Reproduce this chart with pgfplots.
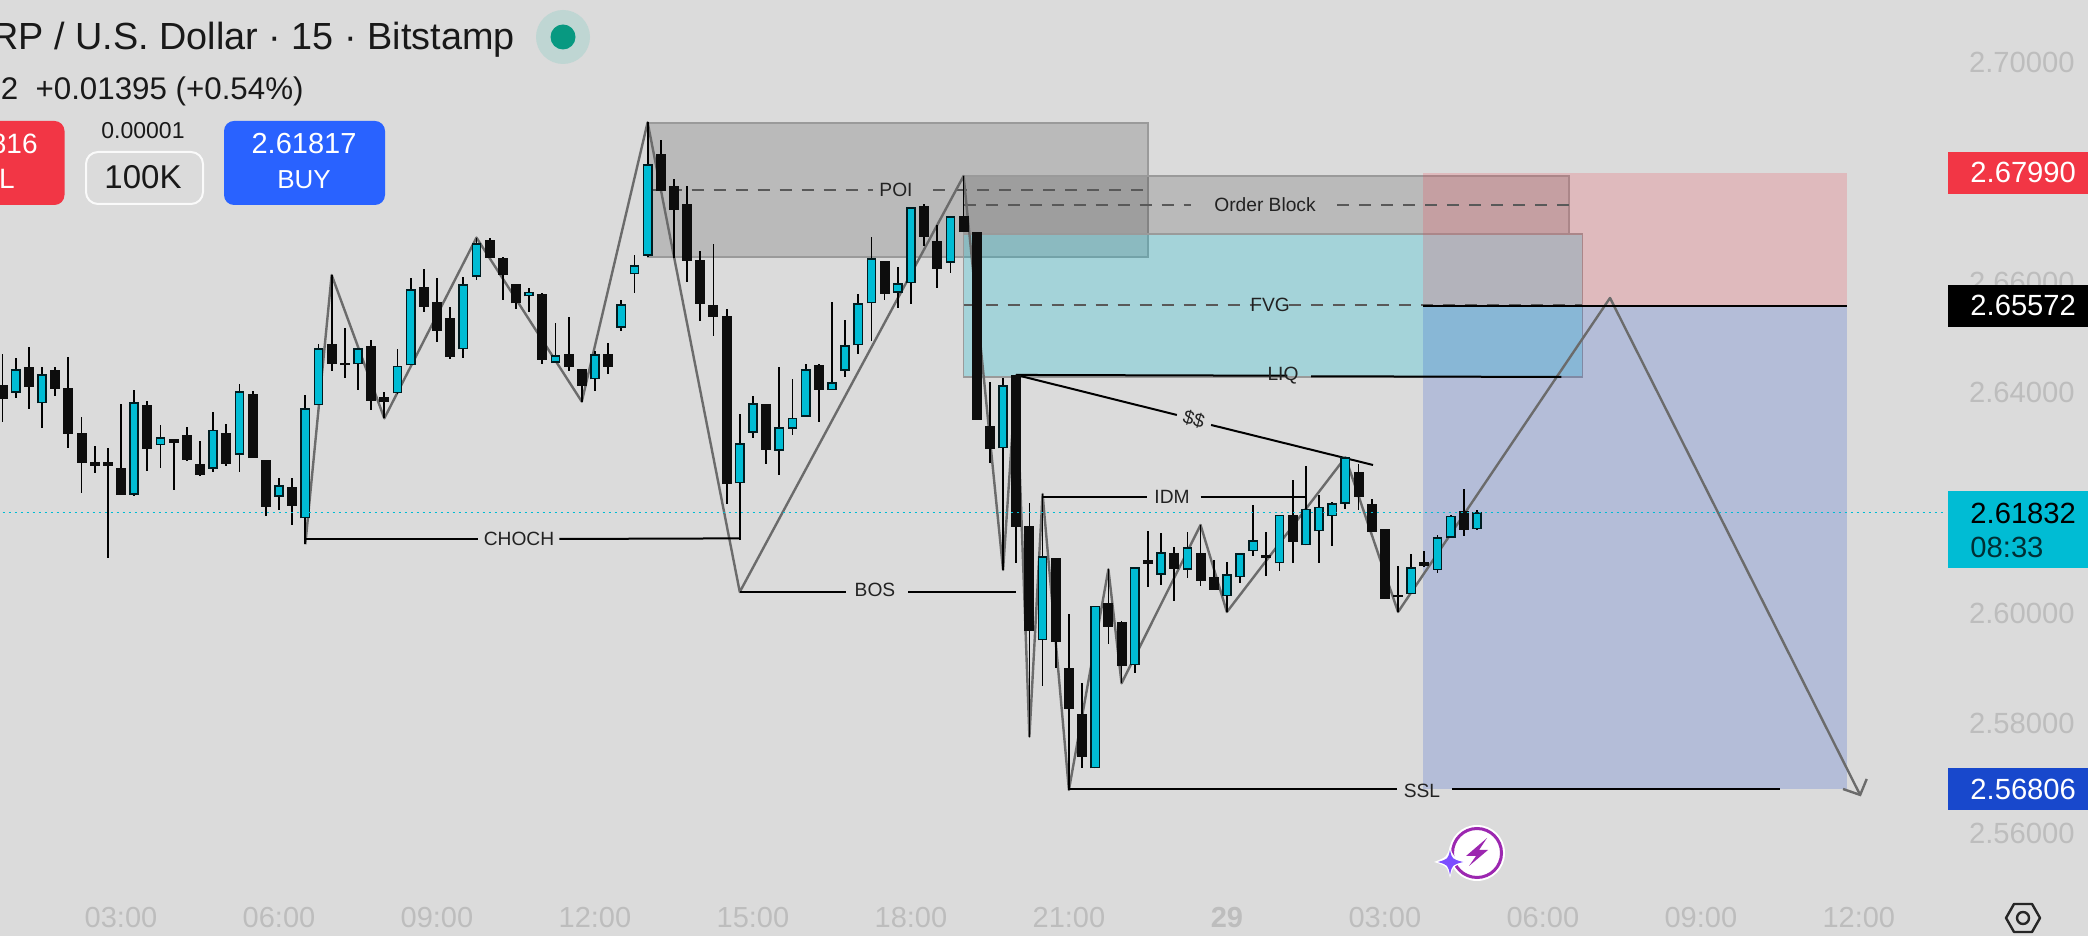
\documentclass[border=0pt]{standalone}
\usepackage{pgfplots}
\usepackage{pgfplotstable}
\usepackage{fontspec}
\pgfplotsset{compat=1.18}
\setmainfont{Liberation Sans}
\definecolor{bgc}{HTML}{DBDBDB}
\definecolor{upc}{HTML}{00BCD4}
\definecolor{tagred}{HTML}{F23645}
\definecolor{tagblue}{HTML}{1848CC}
\definecolor{btnblue}{HTML}{2962FF}
\definecolor{zig}{HTML}{6B6B6B}
\definecolor{ticktxt}{HTML}{BDBDBD}
\definecolor{boxline}{HTML}{9A9A9A}
\definecolor{lbl}{HTML}{222222}
\definecolor{halo}{HTML}{BFD6D3}
\definecolor{dotc}{HTML}{089981}
\definecolor{purp}{HTML}{9C27B0}
\definecolor{spark}{HTML}{7C4DFF}
\newcommand{\fs}[1]{\fontsize{#1}{#1}\selectfont}

% i = 15 minute candle index, 0 is 03:00
\pgfplotstableread{
i lo hi bot top
-8 2.63912 2.64626 2.64003 2.64426
-6 2.63362 2.64462 2.63810 2.64335
1 2.62147 2.64051 2.62153 2.63828
3 2.62637 2.63417 2.63054 2.63193
7 2.62564 2.63652 2.62625 2.63326
9 2.62564 2.64160 2.62879 2.64027
12 2.61875 2.62455 2.62117 2.62322
14 2.61252 2.63961 2.61724 2.63719
15 2.63773 2.64886 2.63773 2.64807
18 2.64051 2.64807 2.64517 2.64807
21 2.63979 2.64795 2.63991 2.64481
22 2.64499 2.66076 2.64499 2.65877
26 2.64632 2.66101 2.64789 2.65968
27 2.66046 2.66814 2.66107 2.66711
31 2.65466 2.65895 2.65750 2.65828
33 2.64547 2.65260 2.64547 2.64680
36 2.64033 2.64752 2.64245 2.64698
38 2.65127 2.65677 2.65182 2.65605
39 2.65810 2.66499 2.66149 2.66312
40 2.66463 2.68905 2.66487 2.68144
47 2.61331 2.63616 2.62359 2.63084
48 2.63181 2.63942 2.63277 2.63809
50 2.62510 2.64468 2.62951 2.63374
51 2.63235 2.64251 2.63350 2.63549
52 2.63568 2.64523 2.63568 2.64426
54 2.64051 2.65647 2.64051 2.64190
55 2.64287 2.65321 2.64402 2.64861
56 2.64704 2.65792 2.64861 2.65623
57 2.64940 2.66826 2.65623 2.66439
59 2.65538 2.66282 2.65816 2.65986
60 2.65611 2.67364 2.65986 2.67364
63 2.66173 2.67201 2.66360 2.67201
67 2.60787 2.64269 2.62993 2.64136
70 2.58683 2.62165 2.59511 2.61035
74 2.57190 2.60134 2.57190 2.60134
77 2.58925 2.60835 2.59058 2.60835
79 2.60515 2.61458 2.60702 2.61107
81 2.60642 2.61476 2.60793 2.61198
84 2.60025 2.60932 2.60309 2.60708
85 2.60551 2.61089 2.60654 2.61089
86 2.61041 2.61966 2.61125 2.61325
88 2.60775 2.61784 2.60908 2.61784
90 2.61234 2.62673 2.61234 2.61899
91 2.60914 2.62147 2.61488 2.61935
92 2.61222 2.62014 2.61760 2.61996
93 2.61893 2.62830 2.61990 2.62830
98 2.60352 2.61077 2.60352 2.60835
100 2.60733 2.61416 2.60787 2.61379
101 2.61373 2.61784 2.61373 2.61772
103 2.61512 2.61875 2.61530 2.61833
}\upcandles

\pgfplotstableread{
i lo hi bot top
-9 2.63477 2.64704 2.63888 2.64142
-7 2.63707 2.64831 2.64112 2.64462
-5 2.63949 2.64462 2.64076 2.64414
-4 2.63000 2.64650 2.63253 2.64082
-3 2.62183 2.63562 2.62727 2.63265
-2 2.62546 2.63036 2.62679 2.62746
-1 2.61011 2.63000 2.62673 2.62746
0 2.62147 2.63797 2.62147 2.62637
2 2.62582 2.63852 2.62981 2.63779
4 2.62238 2.63163 2.63090 2.63163
5 2.62770 2.63380 2.62782 2.63235
6 2.62492 2.63126 2.62510 2.62709
8 2.62673 2.63435 2.62709 2.63272
10 2.62818 2.64027 2.62818 2.63979
11 2.61766 2.62782 2.61930 2.62782
13 2.61603 2.62455 2.61948 2.62292
16 2.64390 2.66137 2.64523 2.64886
17 2.64269 2.65176 2.64505 2.64541
19 2.63689 2.64958 2.63852 2.64849
20 2.63537 2.64015 2.63834 2.63924
23 2.65466 2.66246 2.65557 2.65919
24 2.64922 2.66082 2.65121 2.65647
25 2.64614 2.65557 2.64650 2.65357
28 2.66445 2.66808 2.66445 2.66772
29 2.65683 2.66457 2.66137 2.66445
30 2.65520 2.65974 2.65623 2.65974
32 2.64523 2.65804 2.64601 2.65792
34 2.64396 2.65375 2.64474 2.64704
35 2.63840 2.64426 2.64130 2.64426
37 2.64341 2.64897 2.64474 2.64704
41 2.67660 2.68585 2.67660 2.68331
42 2.66451 2.67872 2.67322 2.67751
43 2.66010 2.67751 2.66391 2.67424
44 2.65302 2.66572 2.65617 2.66409
45 2.65030 2.66699 2.65375 2.65587
46 2.61984 2.65520 2.62346 2.65393
49 2.62709 2.63797 2.62963 2.63797
53 2.63471 2.64523 2.64051 2.64505
58 2.65683 2.66391 2.65792 2.66391
61 2.66663 2.67424 2.66826 2.67388
62 2.65901 2.67043 2.66246 2.66753
64 2.66917 2.67932 2.66917 2.67207
65 2.63507 2.66917 2.63507 2.66917
66 2.62727 2.64196 2.62981 2.63398
68 2.60920 2.64323 2.61573 2.64323
69 2.57764 2.62002 2.59687 2.61585
71 2.59010 2.61005 2.59481 2.61005
72 2.56797 2.59989 2.58266 2.59010
73 2.57196 2.58732 2.57402 2.58176
75 2.59445 2.60799 2.59759 2.60188
76 2.58732 2.59856 2.59046 2.59844
78 2.60479 2.61494 2.60902 2.60968
80 2.60225 2.61204 2.60805 2.61095
82 2.60497 2.61603 2.60594 2.61095
83 2.60424 2.60968 2.60424 2.60660
87 2.60678 2.61476 2.61005 2.61059
89 2.60914 2.62419 2.61295 2.61784
94 2.61875 2.62709 2.62111 2.62564
95 2.61476 2.62075 2.61476 2.61984
96 2.60261 2.61530 2.60261 2.61530
97 2.60025 2.60859 2.60297 2.60334
99 2.60847 2.61132 2.60859 2.60932
102 2.61404 2.62256 2.61512 2.61857
}\downcandles

\pgfplotsset{
  wick/.style={draw=none, mark=none, forget plot,
    error bars/.cd, y dir=both, y explicit, error mark=none,
    error bar style={draw=black, line width=0.9pt, solid}},
  body/.style 2 args={draw=none, mark=none, forget plot,
    error bars/.cd, y dir=both, y explicit, error mark=none,
    error bar style={draw=#1, line width=#2, solid}},
  zone/.style={forget plot, line width=0.75pt},
  lev/.style={forget plot, black, line width=1pt, mark=none},
  dash/.style={forget plot, black!65, line width=0.75pt, dash pattern=on 6pt off 5pt, mark=none},
}

\begin{document}
\begin{tikzpicture}
\begin{axis}[
  scale only axis, width=1044pt, height=468pt,
  xmin=-9.191, xmax=149.41, ymin=2.54149, ymax=2.71124,
  axis background/.style={fill=bgc},
  axis line style={draw=none},
  major tick length=0pt,
  tick style={draw=none},
  xtick={0,12,24,36,48,60,72,84,96,108,120,132},
  xticklabels={03:00,06:00,09:00,12:00,15:00,18:00,21:00,\textbf{29},03:00,06:00,09:00,12:00},
  xticklabel style={font=\fs{14.5}, text=ticktxt, anchor=base, inner sep=0pt, yshift=4pt},
  ytick={2.56,2.58,2.60,2.64,2.66,2.70},
  yticklabels={2.56000,2.58000,2.60000,2.64000,2.66000,2.70000},
  yticklabel pos=right,
  yticklabel style={font=\fs{14.6}, text=ticktxt, anchor=east, inner sep=0pt, xshift=-6.5pt},
  clip=true,
]
% zones
\addplot[zone, fill=black, fill opacity=.15, draw=boxline] coordinates {(40,2.68894)(78,2.68894)(78,2.66464)(40,2.66464)} --cycle;
\addplot[zone, fill=black, fill opacity=.15, draw=boxline] coordinates {(64,2.67933)(110,2.67933)(110,2.66881)(64,2.66881)} --cycle;
\addplot[zone, fill=upc, fill opacity=.25, draw=boxline] coordinates {(64,2.66881)(111,2.66881)(111,2.64287)(64,2.64287)} --cycle;
\addplot[forget plot, fill=tagred, fill opacity=.2, draw=none] coordinates {(98.9,2.67990)(131.1,2.67990)(131.1,2.65572)(98.9,2.65572)} --cycle;
\addplot[forget plot, fill=tagblue, fill opacity=.2, draw=none] coordinates {(98.9,2.65572)(131.1,2.65572)(131.1,2.56806)(98.9,2.56806)} --cycle;
% dashed mid lines
\addplot[dash] coordinates {(40,2.67679)(57.1,2.67679)};
\addplot[dash] coordinates {(61.7,2.67679)(78,2.67679)};
\addplot[dash] coordinates {(64,2.67407)(81.3,2.67407)};
\addplot[dash] coordinates {(92.4,2.67407)(110,2.67407)};
\addplot[dash] coordinates {(64,2.65590)(85.9,2.65590)};
\addplot[dash] coordinates {(88.7,2.65590)(111,2.65590)};
% zigzag
\addplot[forget plot, zig, line width=1.2pt, mark=none, line join=round] coordinates {
  (14,2.61252)(16,2.66137)(20,2.63537)(27,2.66814)(35,2.63840)(40,2.68905)
  (47,2.60388)(64,2.67932)(67,2.60787)(68,2.64323)(69,2.57764)(70,2.62165)
  (72,2.56797)(75,2.60799)(76,2.58732)(82,2.61603)(84,2.60025)(93,2.62830)
  (97,2.60025)(113.1,2.65720)(132.1,2.56707)};
\addplot[forget plot, zig, line width=1.2pt, mark=none] coordinates {(132.6,2.56997)(132.1,2.56707)(130.8,2.56815)};
% black levels
\addplot[lev] coordinates {(14,2.61349)(27.1,2.61349)};
\addplot[lev] coordinates {(33.3,2.61349)(47,2.61360)};
\addplot[lev] coordinates {(47,2.60388)(55.1,2.60388)};
\addplot[lev] coordinates {(59.8,2.60388)(68,2.60388)};
\addplot[lev] coordinates {(68,2.64324)(88.6,2.64310)};
\addplot[lev] coordinates {(90.4,2.64300)(109.4,2.64287)};
\addplot[lev] coordinates {(68,2.64324)(80.2,2.63598)};
\addplot[lev] coordinates {(82.8,2.63417)(95.1,2.62691)};
\addplot[lev] coordinates {(70,2.62111)(77.9,2.62111)};
\addplot[lev] coordinates {(82,2.62111)(90.1,2.62111)};
\addplot[lev] coordinates {(72,2.56806)(96.9,2.56806)};
\addplot[lev] coordinates {(101.1,2.56806)(126,2.56806)};
\addplot[lev] coordinates {(98.9,2.65572)(131.1,2.65572)};
% candles
\addplot[wick] table[x=i, y=bot, y error plus expr=\thisrow{hi}-\thisrow{bot}, y error minus expr=\thisrow{bot}-\thisrow{lo}] {\downcandles};
\addplot[wick] table[x=i, y=bot, y error plus expr=\thisrow{hi}-\thisrow{bot}, y error minus expr=\thisrow{bot}-\thisrow{lo}] {\upcandles};
\addplot[body={black!95}{5pt}] table[x=i, y=bot, y error plus expr=\thisrow{top}-\thisrow{bot}, y error minus expr=0] {\downcandles};
\addplot[body={black!85!upc}{4.9pt}] table[x=i, y=bot, y error plus expr=\thisrow{top}-\thisrow{bot}, y error minus expr=0] {\upcandles};
\addplot[body={upc}{3.3pt}] table[x=i, y expr=\thisrow{bot}+0.00022, y error plus expr={max(\thisrow{top}-\thisrow{bot}-0.00044,0)}, y error minus expr=0] {\upcandles};
% last price
\addplot[forget plot, upc, line width=.75pt, dash pattern=on 1pt off 2pt, mark=none] coordinates {(-9,2.61832)(138.4,2.61832)};
\end{axis}

\begin{scope}[x=0.5pt, y=-0.5pt, shift={(0pt,468pt)}]
  \tikzset{txt/.style={inner sep=0pt, anchor=base}}
  % header
  \node[inner sep=0pt, anchor=base east, text=black!90] at (515,50) {\fs{18.9}RP / U.S. Dollar · 15 · Bitstamp};
  \fill[halo] (563,37) circle[radius=27];
  \fill[dotc] (563,37) circle[radius=12.5];
  \node[inner sep=0pt, anchor=base east, text=black!90] at (304,100) {\fs{15.65}2\hspace{0.55em}+0.01395 (+0.54\%)};
  \fill[tagred, rounded corners=5pt] (-30,121) rectangle (64.5,205);
  \node[inner sep=0pt, anchor=base east, text=white] at (38,154) {\fs{14}816};
  \node[inner sep=0pt, anchor=base east, text=white] at (15,189) {\fs{14}L};
  \node[txt, text=black!90] at (143,139) {\fs{11.5}0.00001};
  \draw[white!85!bgc, line width=1pt, rounded corners=6pt] (86,152) rectangle (203,204);
  \node[txt, text=black!90] at (143,189) {\fs{16.5}100K};
  \fill[btnblue, rounded corners=5pt] (224,121) rectangle (385,205);
  \node[txt, text=white] at (304,154) {\fs{14.5}2.61817};
  \node[txt, text=white] at (304,189) {\fs{13}BUY};
  % chart labels
  \node[inner sep=0pt, text=lbl] at (896,190) {\fs{9.6}POI};
  \node[inner sep=0pt, text=lbl] at (1265,205) {\fs{9.6}Order Block};
  \node[inner sep=0pt, text=lbl] at (1270,305) {\fs{9.6}FVG};
  \node[inner sep=0pt, text=lbl] at (1283,376) {\fs{9.6}LIQ};
  \node[inner sep=0pt, text=lbl, rotate=-16] at (1194,419) {\fs{9.6}\$\$};
  \node[inner sep=0pt, text=lbl] at (1172,497) {\fs{9.6}IDM};
  \node[inner sep=0pt, text=lbl] at (519,539) {\fs{9.6}CHOCH};
  \node[inner sep=0pt, text=lbl] at (875,590) {\fs{9.6}BOS};
  \node[inner sep=0pt, text=lbl] at (1422,791) {\fs{9.6}SSL};
  % price tags
  \fill[tagred] (1948,152) rectangle (2088,194);
  \fill[black] (1948,285) rectangle (2088,327);
  \fill[upc] (1948,491) rectangle (2088,568);
  \fill[tagblue] (1948,768) rectangle (2088,810);
  \node[txt, anchor=base west, text=white] at (1970,183) {\fs{14.6}2.67990};
  \node[txt, anchor=base west, text=white] at (1970,316) {\fs{14.6}2.65572};
  \node[txt, anchor=base west, text=black] at (1970,524) {\fs{14.6}2.61832};
  \node[txt, anchor=base west, text=black!75!upc] at (1970,558) {\fs{14.6}08:33};
  \node[txt, anchor=base west, text=white] at (1970,800) {\fs{14.6}2.56806};
  % icons
  \fill[white] (1477,853) circle[radius=28];
  \draw[fill=white, draw=purp, line width=1.5pt] (1477,853) circle[radius=24.5];
  \fill[purp] (1487,838) -- (1466,856) -- (1476,856) -- (1469,866) -- (1488,850) -- (1479,850) -- cycle;
  \fill[white] (1450,846) .. controls (1453,857) .. (1466,862) .. controls (1453,866) .. (1450,878) .. controls (1447,866) .. (1434,862) .. controls (1447,857) .. cycle;
  \fill[spark] (1450,850) .. controls (1452,859) .. (1463,862) .. controls (1452,865) .. (1450,875) .. controls (1448,865) .. (1438,862) .. controls (1448,859) .. cycle;
  \draw[black!85, line width=1.2pt, line join=round] (2006,918) -- (2014,904) -- (2032,904) -- (2040,918) -- (2032,932) -- (2014,932) -- cycle;
  \draw[black!85, line width=1.2pt] (2023,918) circle[radius=6];
\end{scope}
\pgfresetboundingbox
\path[use as bounding box] (0,0) rectangle (1044pt,468pt);
\end{tikzpicture}
\end{document}
